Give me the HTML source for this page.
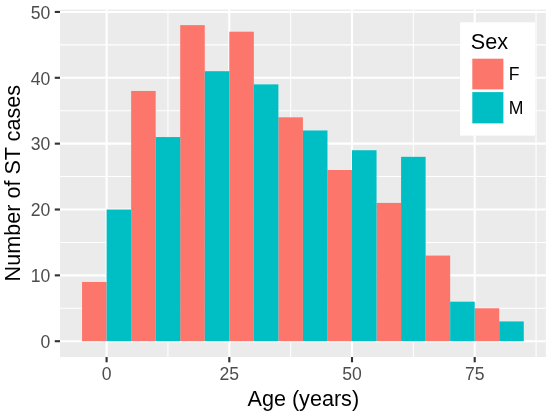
<!DOCTYPE html>
<html lang="en">
<head>
<meta charset="utf-8">
<title>Number of ST cases by age and sex</title>
<style>
html,body{margin:0;padding:0;background:#fff;}
body{width:550px;height:415px;overflow:hidden;}
svg{display:block;}
text{font-family:"Liberation Sans",Arial,Helvetica,sans-serif;}
.ax{font-size:17.6px;fill:#4d4d4d;}
.ttl{font-size:21.6px;fill:#000;}
.lg{font-size:17.6px;fill:#000;}
</style>
</head>
<body>
<svg width="550" height="415" viewBox="0 0 550 415">
<rect x="0" y="0" width="550" height="415" fill="#ffffff"/>
<rect x="59.97" y="9.6" width="485.89" height="347.4" fill="#ebebeb"/>
<g stroke="#ffffff" stroke-width="1.07" fill="none">
<line x1="59.97" x2="545.87" y1="308.27" y2="308.27"/>
<line x1="59.97" x2="545.87" y1="242.42" y2="242.42"/>
<line x1="59.97" x2="545.87" y1="176.57" y2="176.57"/>
<line x1="59.97" x2="545.87" y1="110.72" y2="110.72"/>
<line x1="59.97" x2="545.87" y1="44.88" y2="44.88"/>
<line x1="167.95" x2="167.95" y1="9.6" y2="357"/>
<line x1="290.65" x2="290.65" y1="9.6" y2="357"/>
<line x1="413.35" x2="413.35" y1="9.6" y2="357"/>
<line x1="536.05" x2="536.05" y1="9.6" y2="357"/>
</g>
<g stroke="#ffffff" stroke-width="2.13" fill="none">
<line x1="59.97" x2="545.87" y1="341.2" y2="341.2"/>
<line x1="59.97" x2="545.87" y1="275.35" y2="275.35"/>
<line x1="59.97" x2="545.87" y1="209.5" y2="209.5"/>
<line x1="59.97" x2="545.87" y1="143.65" y2="143.65"/>
<line x1="59.97" x2="545.87" y1="77.8" y2="77.8"/>
<line x1="59.97" x2="545.87" y1="11.95" y2="11.95"/>
<line x1="106.6" x2="106.6" y1="9.6" y2="357"/>
<line x1="229.3" x2="229.3" y1="9.6" y2="357"/>
<line x1="352" x2="352" y1="9.6" y2="357"/>
<line x1="474.7" x2="474.7" y1="9.6" y2="357"/>
</g>
<g fill="#fc766c">
<rect x="82.06" y="281.94" width="24.54" height="59.26"/>
<rect x="131.14" y="90.97" width="24.54" height="250.23"/>
<rect x="180.22" y="25.12" width="24.54" height="316.08"/>
<rect x="229.3" y="31.7" width="24.54" height="309.5"/>
<rect x="278.38" y="117.31" width="24.54" height="223.89"/>
<rect x="327.46" y="169.99" width="24.54" height="171.21"/>
<rect x="376.54" y="202.91" width="24.54" height="138.28"/>
<rect x="425.62" y="255.59" width="24.54" height="85.61"/>
<rect x="474.7" y="308.27" width="24.54" height="32.93"/>
</g>
<g fill="#00bfc4">
<rect x="106.6" y="209.5" width="24.54" height="131.7"/>
<rect x="155.68" y="137.06" width="24.54" height="204.13"/>
<rect x="204.76" y="71.21" width="24.54" height="269.99"/>
<rect x="253.84" y="84.38" width="24.54" height="256.81"/>
<rect x="302.92" y="130.48" width="24.54" height="210.72"/>
<rect x="352" y="150.23" width="24.54" height="190.97"/>
<rect x="401.08" y="156.82" width="24.54" height="184.38"/>
<rect x="450.16" y="301.69" width="24.54" height="39.51"/>
<rect x="499.24" y="321.44" width="24.54" height="19.75"/>
</g>
<g stroke="#333333" stroke-width="2.13" fill="none">
<line x1="54.77" x2="59.97" y1="341.2" y2="341.2"/>
<line x1="54.77" x2="59.97" y1="275.35" y2="275.35"/>
<line x1="54.77" x2="59.97" y1="209.5" y2="209.5"/>
<line x1="54.77" x2="59.97" y1="143.65" y2="143.65"/>
<line x1="54.77" x2="59.97" y1="77.8" y2="77.8"/>
<line x1="54.77" x2="59.97" y1="11.95" y2="11.95"/>
<line x1="106.6" x2="106.6" y1="357" y2="362.3"/>
<line x1="229.3" x2="229.3" y1="357" y2="362.3"/>
<line x1="352" x2="352" y1="357" y2="362.3"/>
<line x1="474.7" x2="474.7" y1="357" y2="362.3"/>
</g>
<g class="ax" text-anchor="end">
<text x="50.4" y="348">0</text>
<text x="50.4" y="282.15">10</text>
<text x="50.4" y="216.3">20</text>
<text x="50.4" y="150.45">30</text>
<text x="50.4" y="84.6">40</text>
<text x="50.4" y="18.75">50</text>
</g>
<g class="ax" text-anchor="middle">
<text x="106.6" y="379.5">0</text>
<text x="229.3" y="379.5">25</text>
<text x="352" y="379.5">50</text>
<text x="474.7" y="379.5">75</text>
</g>
<text class="ttl" text-anchor="middle" x="303.3" y="405.5">Age (years)</text>
<text class="ttl" text-anchor="middle" transform="translate(19.6 183.2) rotate(-90)">Number of ST cases</text>
<rect x="460.1" y="22.3" width="75" height="113.3" fill="#ffffff"/>
<text class="ttl" x="470.8" y="49">Sex</text>
<rect x="472.3" y="58.7" width="31.1" height="30.7" fill="#fc766c"/>
<rect x="472.3" y="92.1" width="31.1" height="31.3" fill="#00bfc4"/>
<text class="lg" x="508.7" y="79.9">F</text>
<text class="lg" x="508.7" y="113.5">M</text>
</svg>
</body>
</html>
